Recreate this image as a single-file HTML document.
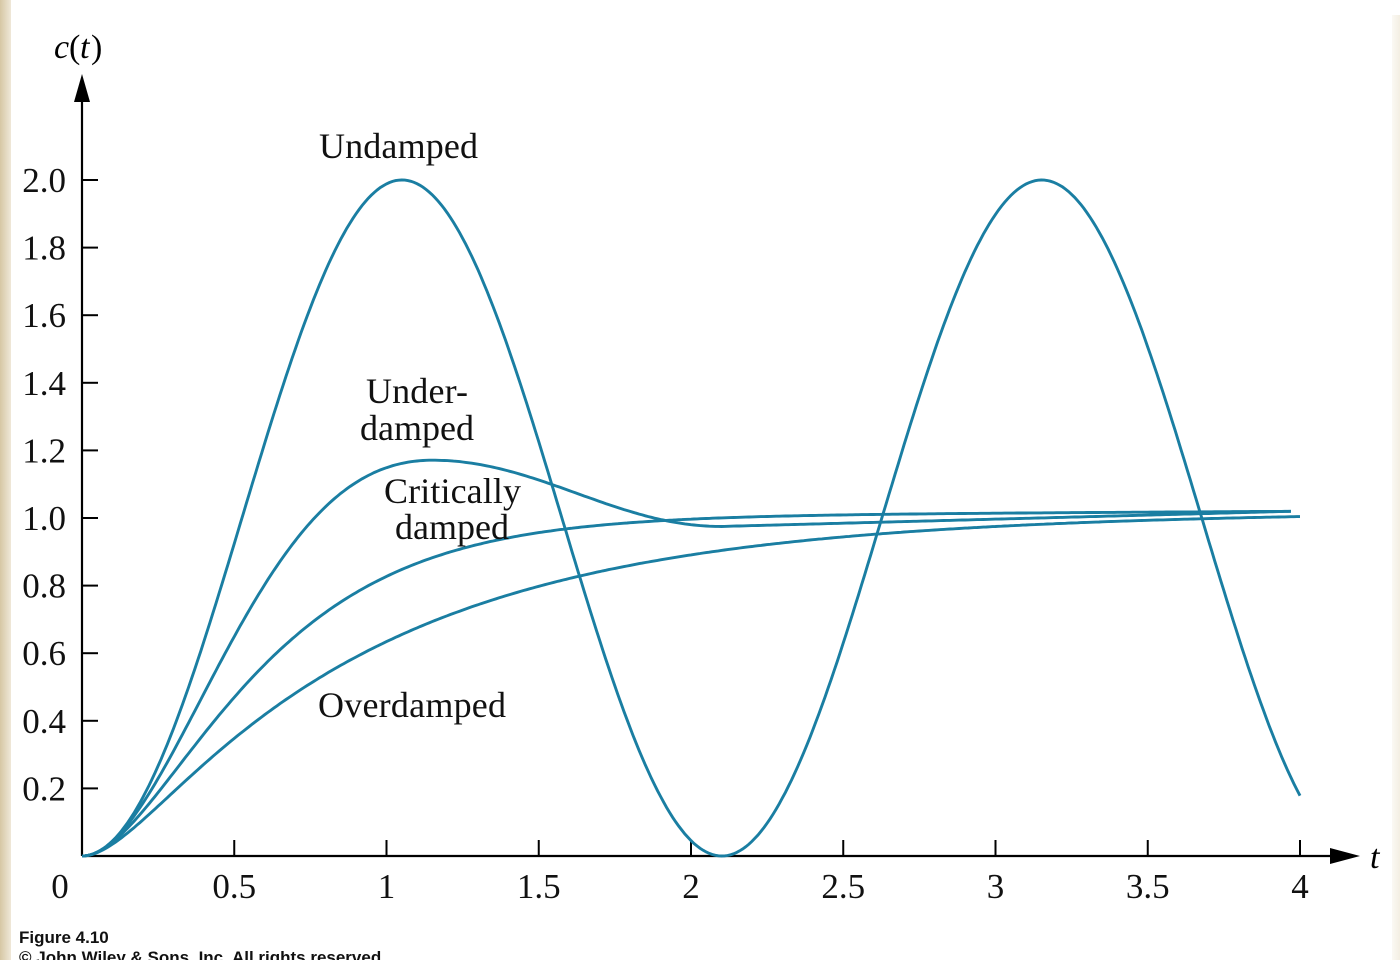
<!DOCTYPE html>
<html><head><meta charset="utf-8"><style>
html,body{margin:0;padding:0;width:1400px;height:960px;overflow:hidden;background:#fff}
</style></head><body>
<svg id="s" width="1400" height="960" xmlns="http://www.w3.org/2000/svg" font-family="Liberation Serif, serif">
<defs>
<linearGradient id="lg" x1="0" x2="1"><stop offset="0" stop-color="#d6c7a4"/><stop offset="1" stop-color="#efe8d8"/></linearGradient>
<linearGradient id="rg" x1="0" x2="1"><stop offset="0" stop-color="#fbf9f4"/><stop offset="1" stop-color="#f3eee2"/></linearGradient>
</defs>
<rect x="0" y="0" width="11" height="960" fill="url(#lg)"/>
<rect x="1392" y="15" width="8" height="945" fill="url(#rg)"/>
<g stroke="#000" stroke-width="2.2" fill="none">
<line x1="82" y1="856" x2="82" y2="95"/>
<line x1="82" y1="856" x2="1340" y2="856"/>
</g>
<polygon points="82,74 74,102 90,102" fill="#000"/>
<polygon points="1360,856 1330,848 1330,864" fill="#000"/>
<g id="ticks" stroke="#000" stroke-width="2"></g>
<g font-size="35" fill="#111" id="lbl"></g>
<text x="54" y="58" font-size="34" font-style="italic">c</text>
<text x="69" y="58" font-size="34">(</text>
<text x="80" y="58" font-size="34" font-style="italic">t</text>
<text x="91" y="58" font-size="34">)</text>
<text x="1370" y="868" font-size="34" font-style="italic">t</text>
<g id="curves" stroke="#1a7ea2" stroke-width="2.9" fill="none"></g>
<g font-size="36" fill="#111">
<text x="319" y="158" textLength="159">Undamped</text>
<text x="366" y="403" textLength="102">Under-</text>
<text x="360" y="440" textLength="114">damped</text>
<text x="384" y="503" textLength="137">Critically</text>
<text x="395" y="539" textLength="114">damped</text>
<text x="318" y="717" textLength="188">Overdamped</text>
</g>
<text x="19" y="943" font-family="Liberation Sans, sans-serif" font-weight="bold" font-size="17" fill="#111">Figure 4.10</text>
<text x="19" y="963" font-family="Liberation Sans, sans-serif" font-weight="bold" font-size="17" fill="#111">© John Wiley &amp; Sons, Inc. All rights reserved.</text>
</svg>
<script>
var NS="http://www.w3.org/2000/svg";
function X(t){return 82+t*304.5}function Y(c){return 856-c*338}
var tk=document.getElementById('ticks'),lb=document.getElementById('lbl');
function el(p,tag,a,txt){var e=document.createElementNS(NS,tag);for(var k in a)e.setAttribute(k,a[k]);if(txt)e.textContent=txt;p.appendChild(e);return e}
for(var i=1;i<=10;i++){var y=Y(i*0.2);el(tk,'line',{x1:82,y1:y,x2:98,y2:y});el(lb,'text',{x:66,y:y+12,'text-anchor':'end'},(i*0.2).toFixed(1));}
var xl=['0.5','1','1.5','2','2.5','3','3.5','4'];
for(var i=1;i<=8;i++){var x=X(i*0.5);el(tk,'line',{x1:x,y1:856,x2:x,y2:840});el(lb,'text',{x:x,y:898,'text-anchor':'middle'},xl[i-1]);}
el(lb,'text',{x:60,y:898,'text-anchor':'middle'},'0');
var cv=document.getElementById('curves');
function path(f,t1){var d='';for(var t=0;t<=t1+1e-9;t+=0.01){d+=(d?'L':'M')+X(t).toFixed(1)+','+Y(f(t)).toFixed(1)}el(cv,'path',{d:d})}
path(function(t){return 1-Math.cos(2.99*t)},4);
var z=0.49,wn=3.13,wd=wn*Math.sqrt(1-z*z);
function ud(t){return 1-Math.exp(-z*wn*t)*(Math.cos(wd*t)+z/Math.sqrt(1-z*z)*Math.sin(wd*t))}
var pk=ud(1.15);
path(function(t){if(t<=1.15)return ud(t);if(t<=2.1)return 0.975+(pk-0.975)*(0.5+0.5*Math.cos(Math.PI*(t-1.15)/0.95));return 0.975+(t-2.1)*0.024},3.97);
path(function(t){return 1-(1+3.15*t)*Math.exp(-3.15*t)+0.005*t},3.97);
path(function(t){var p1=1.15,p2=8;return 1-(p2*Math.exp(-p1*t)-p1*Math.exp(-p2*t))/(p2-p1)+0.004*t},4);
</script>
</body></html>
